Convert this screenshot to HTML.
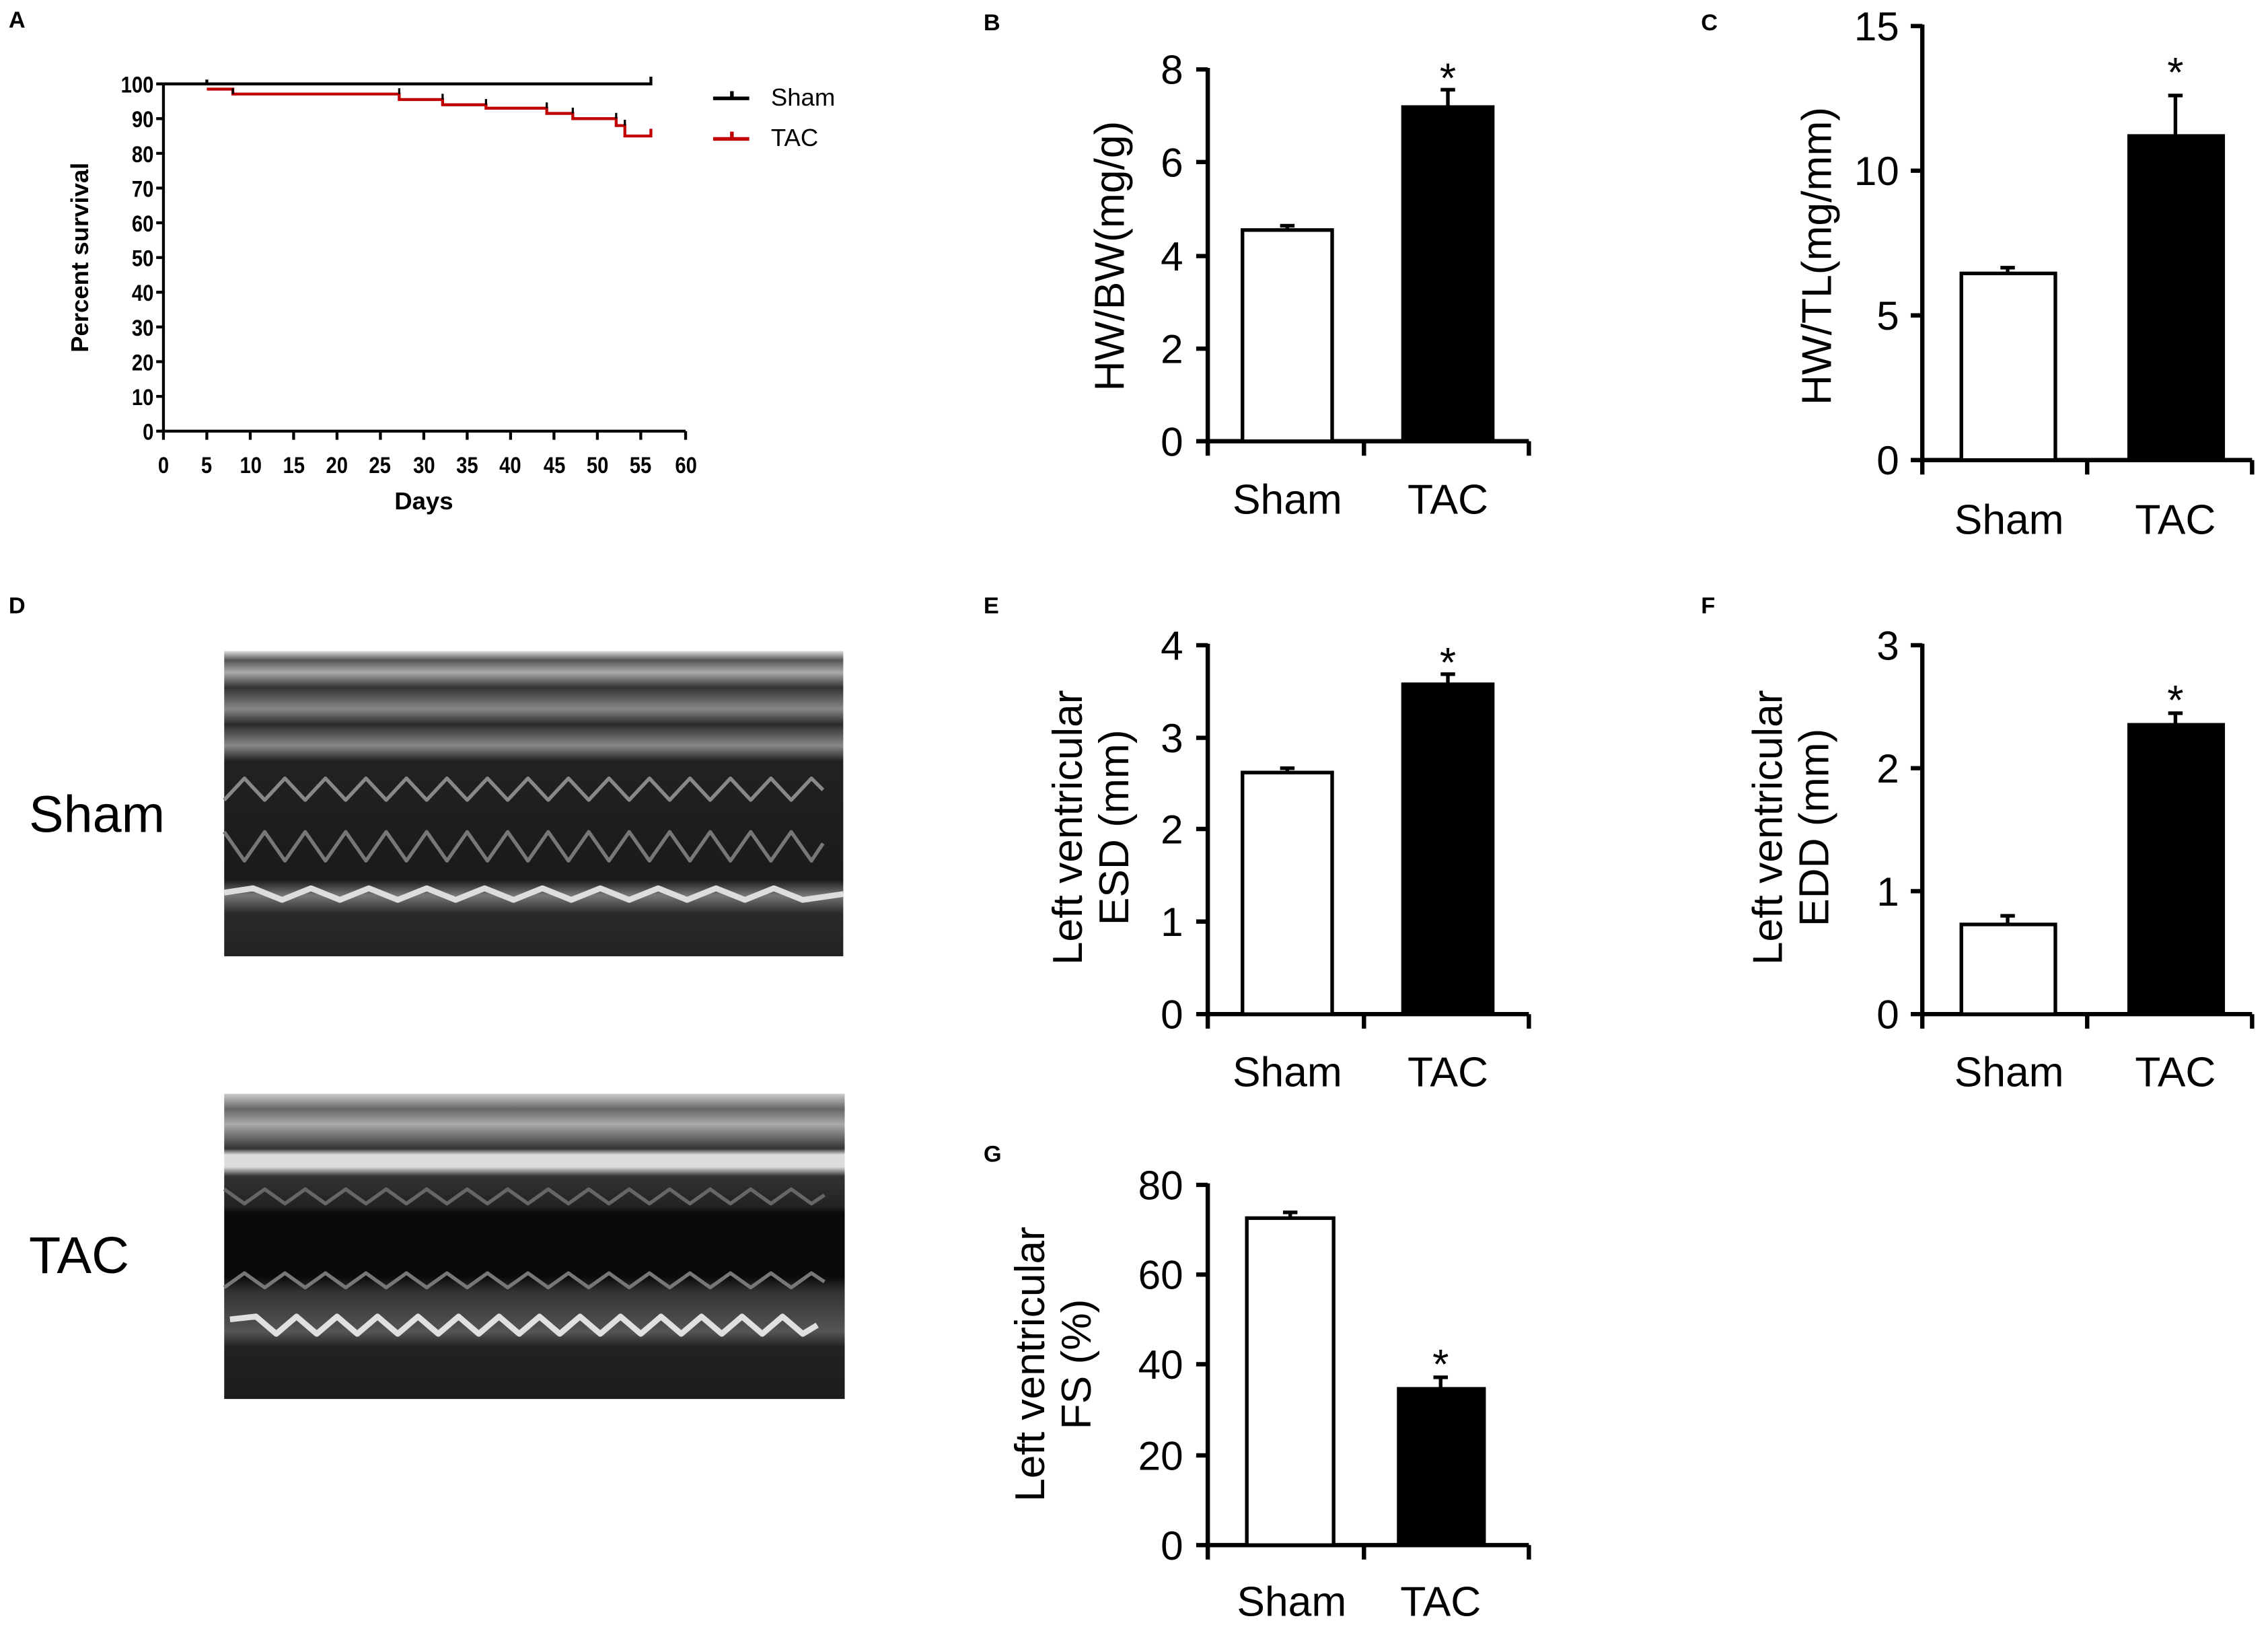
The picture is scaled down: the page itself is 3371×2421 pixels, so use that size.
<!DOCTYPE html>
<html><head><meta charset="utf-8"><style>
html,body{margin:0;padding:0;background:#fff;}
svg{display:block;}
text{font-family:"Liberation Sans",sans-serif;}
</style></head><body>
<svg width="3371" height="2421" viewBox="0 0 1568 1126" preserveAspectRatio="none" xmlns="http://www.w3.org/2000/svg">
<rect width="1568" height="1126" fill="#fff"/>
<g font-weight="bold" font-size="16" fill="#000">
<text x="6" y="19">A</text><text x="680" y="21">B</text><text x="1176" y="21">C</text>
<text x="6" y="424">D</text><text x="680" y="424">E</text><text x="1176" y="424">F</text>
<text x="680" y="803">G</text>
</g>
<!-- Panel A -->
<g stroke="#000" stroke-width="2" fill="none">
<line x1="113" y1="58" x2="113" y2="299"/>
<line x1="112" y1="298" x2="474" y2="298"/>
<path d="M108 58h5M108 82h5M108 106h5M108 130h5M108 154h5M108 178h5M108 202h5M108 226h5M108 250h5M108 274h5M108 298h5"/>
<path d="M113 298v6M143 298v6M173 298v6M203 298v6M233 298v6M263 298v6M293 298v6M323 298v6M353 298v6M383 298v6M413 298v6M443 298v6M474 298v6"/>
<path d="M113 58H450v-5M143 58v-3"/>
</g>
<path d="M143 61.6H161V65H276V68.8H306V72.4H336V74.8H378V78.4H396V82H426V86.8H432V94H450V89" stroke="#c00000" stroke-width="2" fill="none"/>
<path d="M161 65v-4M276 65v-4M306 68.8v-4M336 72.4v-4M378 74.8v-4M396 78.4v-4M426 82v-4M432 86.8v-4" stroke="#000" stroke-width="1.5"/>
<g font-weight="bold" font-size="16" text-anchor="end" transform="scale(0.85,1)">
<text x="125" y="64">100</text><text x="125" y="88">90</text><text x="125" y="112">80</text><text x="125" y="136">70</text><text x="125" y="160">60</text><text x="125" y="184">50</text><text x="125" y="208">40</text><text x="125" y="232">30</text><text x="125" y="256">20</text><text x="125" y="280">10</text><text x="125" y="304">0</text>
</g>
<g font-weight="bold" font-size="16" text-anchor="middle">
<g transform="scale(0.85,1)">
<text x="133" y="327">0</text><text x="168" y="327">5</text><text x="204" y="327">10</text><text x="239" y="327">15</text><text x="274" y="327">20</text><text x="309" y="327">25</text><text x="345" y="327">30</text><text x="380" y="327">35</text><text x="415" y="327">40</text><text x="451" y="327">45</text><text x="486" y="327">50</text><text x="521" y="327">55</text><text x="558" y="327">60</text>
</g>
<text x="293" y="352" font-size="17">Days</text>
<text transform="translate(61,178) rotate(-90)" font-size="17">Percent survival</text>
</g>
<g stroke-width="2.5" fill="none">
<path d="M493 68h25M506 68v-5" stroke="#000"/>
<path d="M493 96h25M506 96v-5" stroke="#c00000"/>
</g>
<text x="533" y="73" font-size="17">Sham</text>
<text x="533" y="101" font-size="17">TAC</text>

<g stroke="#000" stroke-width="3" fill="none">
<path d="M835 47v260M827 48h8M827 112h8M827 177h8M827 241h8M827 305h8M834 305H1057M835 305v10M943 305v10M1057 305v10"/>
<path d="M1329 17v303M1321 18h8M1321 118h8M1321 218h8M1321 318h8M1328 318H1557M1329 318v10M1443 318v10M1557 318v10"/>
<path d="M835 445v258M827 446h8M827 510h8M827 573h8M827 637h8M827 701h8M834 701H1057M835 701v10M943 701v10M1057 701v10"/>
<path d="M1329 445v258M1321 446h8M1321 531h8M1321 616h8M1321 701h8M1328 701H1557M1329 701v10M1443 701v10M1557 701v10"/>
<path d="M835 818v252M827 819h8M827 881h8M827 943h8M827 1006h8M827 1068h8M834 1068H1057M835 1068v10M943 1068v10M1057 1068v10"/>
</g>
<g stroke="#000" stroke-width="2.5">
<rect x="859" y="159" width="62" height="146" fill="#fff"/>
<rect x="970" y="74" width="62" height="231" fill="#000"/>
<path d="M890 159v-3M885 156h10M1001 74v-12M996 62h10"/>
<rect x="1356" y="189" width="65" height="129" fill="#fff"/>
<rect x="1472" y="94" width="65" height="224" fill="#000"/>
<path d="M1388 189v-4M1383 185h10M1504 94v-28M1499 66h10"/>
<rect x="859" y="534" width="62" height="167" fill="#fff"/>
<rect x="970" y="473" width="62" height="228" fill="#000"/>
<path d="M890 534v-3M885 531h10M1001 473v-7M996 466h10"/>
<rect x="1356" y="639" width="65" height="62" fill="#fff"/>
<rect x="1472" y="501" width="65" height="200" fill="#000"/>
<path d="M1388 639v-6M1383 633h10M1504 501v-8M1499 493h10"/>
<rect x="862" y="842" width="60" height="226" fill="#fff"/>
<rect x="967" y="960" width="59" height="108" fill="#000"/>
<path d="M892 842v-4M887 838h10M996 960v-8M991 952h10"/>
</g>
<g font-size="28" text-anchor="end">
<text x="818" y="58">8</text><text x="818" y="122">6</text><text x="818" y="187">4</text><text x="818" y="251">2</text><text x="818" y="315">0</text>
<text x="1313" y="28">15</text><text x="1313" y="128">10</text><text x="1313" y="228">5</text><text x="1313" y="328">0</text>
<text x="818" y="456">4</text><text x="818" y="520">3</text><text x="818" y="583">2</text><text x="818" y="647">1</text><text x="818" y="711">0</text>
<text x="1313" y="456">3</text><text x="1313" y="541">2</text><text x="1313" y="626">1</text><text x="1313" y="711">0</text>
<text x="818" y="829">80</text><text x="818" y="891">60</text><text x="818" y="953">40</text><text x="818" y="1016">20</text><text x="818" y="1078">0</text>
</g>
<g font-size="29" text-anchor="middle">
<text x="890" y="355">Sham</text><text x="1001" y="355">TAC</text>
<text x="1389" y="369">Sham</text><text x="1504" y="369">TAC</text>
<text x="890" y="751">Sham</text><text x="1001" y="751">TAC</text>
<text x="1389" y="751">Sham</text><text x="1504" y="751">TAC</text>
<text x="893" y="1117">Sham</text><text x="996" y="1117">TAC</text>
<text x="1001" y="64">*</text><text x="1504" y="60">*</text><text x="1001" y="468">*</text><text x="1504" y="494">*</text><text x="996" y="953">*</text>
<text transform="translate(777,177) rotate(-90)">HW/BW(mg/g)</text>
<text transform="translate(1266,177) rotate(-90)">HW/TL(mg/mm)</text>
<text transform="translate(748,572) rotate(-90)">Left ventricular</text>
<text transform="translate(780,572) rotate(-90)">ESD (mm)</text>
<text transform="translate(1232,572) rotate(-90)">Left ventricular</text>
<text transform="translate(1264,572) rotate(-90)">EDD (mm)</text>
<text transform="translate(722,943) rotate(-90)">Left ventricular</text>
<text transform="translate(754,943) rotate(-90)">FS (%)</text>
</g>
<text x="20" y="575" font-size="36">Sham</text>
<text x="20" y="880" font-size="36">TAC</text>
<defs>
<linearGradient id="g1" x1="0" y1="0" x2="0" y2="1">
<stop offset="0" stop-color="#ddd"/><stop offset="0.03" stop-color="#555"/><stop offset="0.07" stop-color="#aaa"/><stop offset="0.12" stop-color="#333"/><stop offset="0.19" stop-color="#888"/><stop offset="0.24" stop-color="#2a2a2a"/><stop offset="0.31" stop-color="#888"/><stop offset="0.36" stop-color="#222"/><stop offset="0.75" stop-color="#1a1a1a"/><stop offset="0.8" stop-color="#777"/><stop offset="0.86" stop-color="#2a2a2a"/><stop offset="1" stop-color="#222"/>
</linearGradient>
<linearGradient id="g2" x1="0" y1="0" x2="0" y2="1">
<stop offset="0" stop-color="#ccc"/><stop offset="0.05" stop-color="#666"/><stop offset="0.1" stop-color="#aaa"/><stop offset="0.18" stop-color="#333"/><stop offset="0.2" stop-color="#ddd"/><stop offset="0.24" stop-color="#ddd"/><stop offset="0.27" stop-color="#333"/><stop offset="0.37" stop-color="#222"/><stop offset="0.39" stop-color="#0a0a0a"/><stop offset="0.6" stop-color="#0a0a0a"/><stop offset="0.65" stop-color="#333"/><stop offset="0.78" stop-color="#555"/><stop offset="0.83" stop-color="#222"/><stop offset="1" stop-color="#1c1c1c"/>
</linearGradient>
</defs>
<rect x="155" y="450" width="428" height="211" fill="url(#g1)"/>
<g fill="none" stroke-linejoin="round">
<path d="M155 553 l14 -15 l14 15 l14 -15 l14 15 l14 -15 l14 15 l14 -15 l14 15 l14 -15 l14 15 l14 -15 l14 15 l14 -15 l14 15 l14 -15 l14 15 l14 -15 l14 15 l14 -15 l14 15 l14 -15 l14 15 l14 -15 l14 15 l14 -15 l14 15 l14 -15 l14 15 l14 -15 l8 8" stroke="#888" stroke-width="2.5"/>
<path d="M155 575 l14 20 l14 -20 l14 20 l14 -20 l14 20 l14 -20 l14 20 l14 -20 l14 20 l14 -20 l14 20 l14 -20 l14 20 l14 -20 l14 20 l14 -20 l14 20 l14 -20 l14 20 l14 -20 l14 20 l14 -20 l14 20 l14 -20 l14 20 l14 -20 l14 20 l14 -20 l14 20 l8 -12" stroke="#777" stroke-width="2.5"/>
<path d="M155 617 l20 -3 l20 8 l20 -8 l20 8 l20 -8 l20 8 l20 -8 l20 8 l20 -8 l20 8 l20 -8 l20 8 l20 -8 l20 8 l20 -8 l20 8 l20 -8 l20 8 l20 -8 l20 8 l28 -4" stroke="#ddd" stroke-width="4"/>
</g>
<rect x="155" y="756" width="429" height="211" fill="url(#g2)"/>
<g fill="none" stroke-linejoin="round">
<path d="M155 822 l14 10 l14 -10 l14 10 l14 -10 l14 10 l14 -10 l14 10 l14 -10 l14 10 l14 -10 l14 10 l14 -10 l14 10 l14 -10 l14 10 l14 -10 l14 10 l14 -10 l14 10 l14 -10 l14 10 l14 -10 l14 10 l14 -10 l14 10 l14 -10 l14 10 l14 -10 l14 10 l9 -6" stroke="#666" stroke-width="2.5"/>
<path d="M155 890 l14 -10 l14 10 l14 -10 l14 10 l14 -10 l14 10 l14 -10 l14 10 l14 -10 l14 10 l14 -10 l14 10 l14 -10 l14 10 l14 -10 l14 10 l14 -10 l14 10 l14 -10 l14 10 l14 -10 l14 10 l14 -10 l14 10 l14 -10 l14 10 l14 -10 l14 10 l14 -10 l9 6" stroke="#777" stroke-width="2.5"/>
<path d="M159 912 l18 -2 l14 12 l14 -12 l14 12 l14 -12 l14 12 l14 -12 l14 12 l14 -12 l14 12 l14 -12 l14 12 l14 -12 l14 12 l14 -12 l14 12 l14 -12 l14 12 l14 -12 l14 12 l14 -12 l14 12 l14 -12 l14 12 l14 -12 l14 12 l14 -12 l14 12 l10 -6" stroke="#e0e0e0" stroke-width="4"/>
</g>
</svg>
</body></html>
